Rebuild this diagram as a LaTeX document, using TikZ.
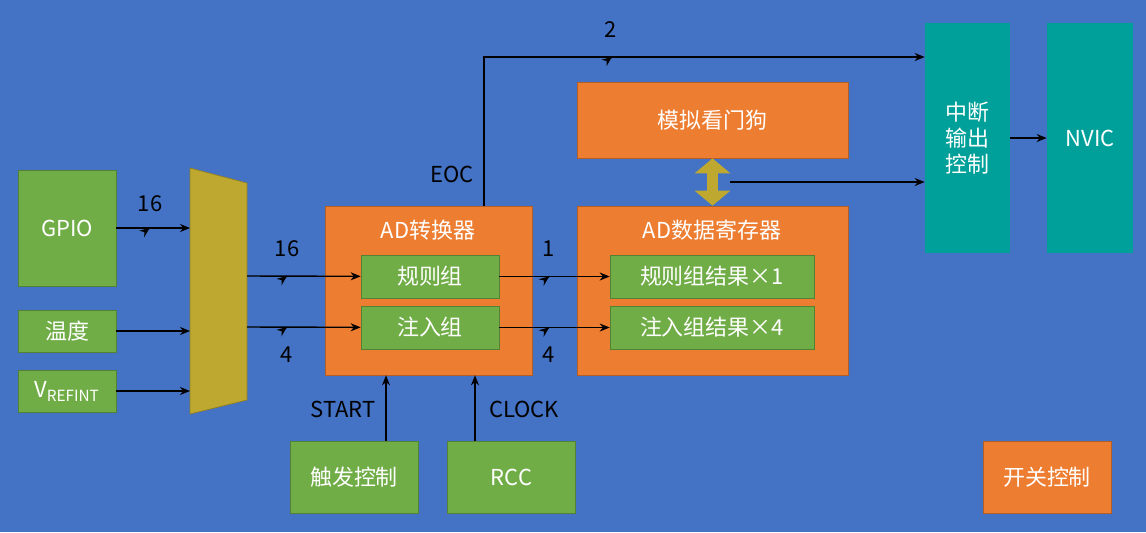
\documentclass[tikz,border=0pt]{standalone}
\usepackage{fontspec}
\setmainfont{Noto Sans CJK SC}
\usetikzlibrary{positioning,arrows.meta}
\definecolor{bgblue}{HTML}{4472C4}
\definecolor{orng}{HTML}{ED7D31}
\definecolor{grn}{HTML}{70AD47}
\definecolor{teal2}{HTML}{00A09A}
\definecolor{gold}{HTML}{BFA830}
\tikzstyle{box} = [rectangle, text=white, inner sep=0pt, font=\fontsize{12.5}{15}\selectfont]
\tikzstyle{obox} = [box, fill=orng, draw=orng!75!black]
\tikzstyle{gbox} = [box, fill=grn, draw=grn!75!black]
\tikzstyle{tbox} = [box, fill=teal2, align=center]
\tikzstyle{lbl} = [font=\fontsize{12.5}{15}\selectfont, text=black]
\tikzstyle{ln} = [thick, -{Stealth[length=2mm,width=1.6mm]}]
\tikzset{slash/.pic={\draw[thick] (-0.22,0.17) -- (0.22,-0.17);}}

\begin{document}
\begin{tikzpicture}[x=0.02cm, y=-0.02cm]
\fill[bgblue] (0,0) rectangle (1146,532);
\useasboundingbox (0,0) rectangle (1146,532);

% inputs
\node [gbox, minimum width=1.96cm, minimum height=2.32cm] (gpio) at (67,228) {GPIO};
\node [gbox, minimum width=1.96cm, minimum height=0.84cm] (temp) at (67,331) {温度};
\node [gbox, minimum width=1.96cm, minimum height=0.84cm] (vref) at (67,391) {V\textsubscript{REFINT}};

% multiplexer
\fill[gold, draw=gold!75!black] (190,168) -- (247,183) -- (247,400) -- (190,414) -- cycle;
\coordinate (mux1) at (190,228);
\coordinate (mux2) at (190,331);
\coordinate (mux3) at (190,391);
\coordinate (muxa) at (247,276);
\coordinate (muxb) at (247,327);

% converter and registers
\node [obox, minimum width=4.14cm, minimum height=3.38cm] (adc) at (428.5,290.5) {};
\node [box] at (428,230) {AD转换器};
\node [gbox, minimum width=2.76cm, minimum height=0.86cm] (reg) at (430,276.5) {规则组};
\node [gbox, minimum width=2.76cm, minimum height=0.86cm] (inj) at (430,327.5) {注入组};
\node [obox, minimum width=5.42cm, minimum height=3.38cm] (dr) at (712.5,290.5) {};
\node [box] at (712,230) {AD数据寄存器};
\node [gbox, minimum width=4.08cm, minimum height=0.86cm] (regres) at (712,276.5) {规则组结果×1};
\node [gbox, minimum width=4.08cm, minimum height=0.86cm] (injres) at (712,327.5) {注入组结果×4};
\node [obox, minimum width=5.42cm, minimum height=1.52cm] (wd) at (712.5,120) {模拟看门狗};

\node [tbox, minimum width=1.7cm, minimum height=4.6cm] (int) at (967.5,138) {中断\\输出\\控制};
\node [tbox, minimum width=1.72cm, minimum height=4.6cm] (nvic) at (1090,138) {NVIC};

\node [gbox, minimum width=2.56cm, minimum height=1.44cm] (trig) at (354,477) {触发控制};
\node [gbox, minimum width=2.56cm, minimum height=1.44cm] (rcc) at (511.5,477) {RCC};
\node [obox, minimum width=2.56cm, minimum height=1.44cm] (sw) at (1047,477) {开关控制};

% connections
\draw [ln] (gpio.east |- mux1) -- pic[pos=0.45]{slash} (mux1);
\node [lbl] at (150,204) {16};
\draw [ln] (temp) -- (mux2);
\draw [ln] (vref) -- (mux3);
\draw [ln] (muxa) -- pic[pos=0.35]{slash} (reg);
\node [lbl] at (287,249) {16};
\draw [ln] (muxb) -- pic[pos=0.35]{slash} (inj);
\node [lbl] at (287,355) {4};
\draw [ln] (reg) -- pic[pos=0.45]{slash} (regres);
\node [lbl] at (549,249) {1};
\draw [ln] (inj) -- pic[pos=0.45]{slash} (injres);
\node [lbl] at (549,355) {4};

\coordinate (eoc) at (484,57);
\draw [ln] (adc.north -| eoc) -- (eoc) -- pic[pos=0.29]{slash} (int.west |- eoc);
\node [lbl] at (452,174) {EOC};
\node [lbl] at (611,30) {2};

\draw [line width=0.22cm, gold, {Triangle[width=0.7cm,length=0.3cm]}-{Triangle[width=0.7cm,length=0.3cm]}] (wd.south) -- (dr.north);
\coordinate (wdout) at (730,182);
\draw [ln] (wdout) -- (int.west |- wdout);
\draw [ln] (int) -- (nvic);

\draw [ln] (trig.north -| 386,0) -- (adc.south -| 386,0);
\node [lbl] at (343,409) {START};
\draw [ln] (rcc.north -| 475,0) -- (adc.south -| 475,0);
\node [lbl] at (524,409) {CLOCK};
\end{tikzpicture}
\end{document}
